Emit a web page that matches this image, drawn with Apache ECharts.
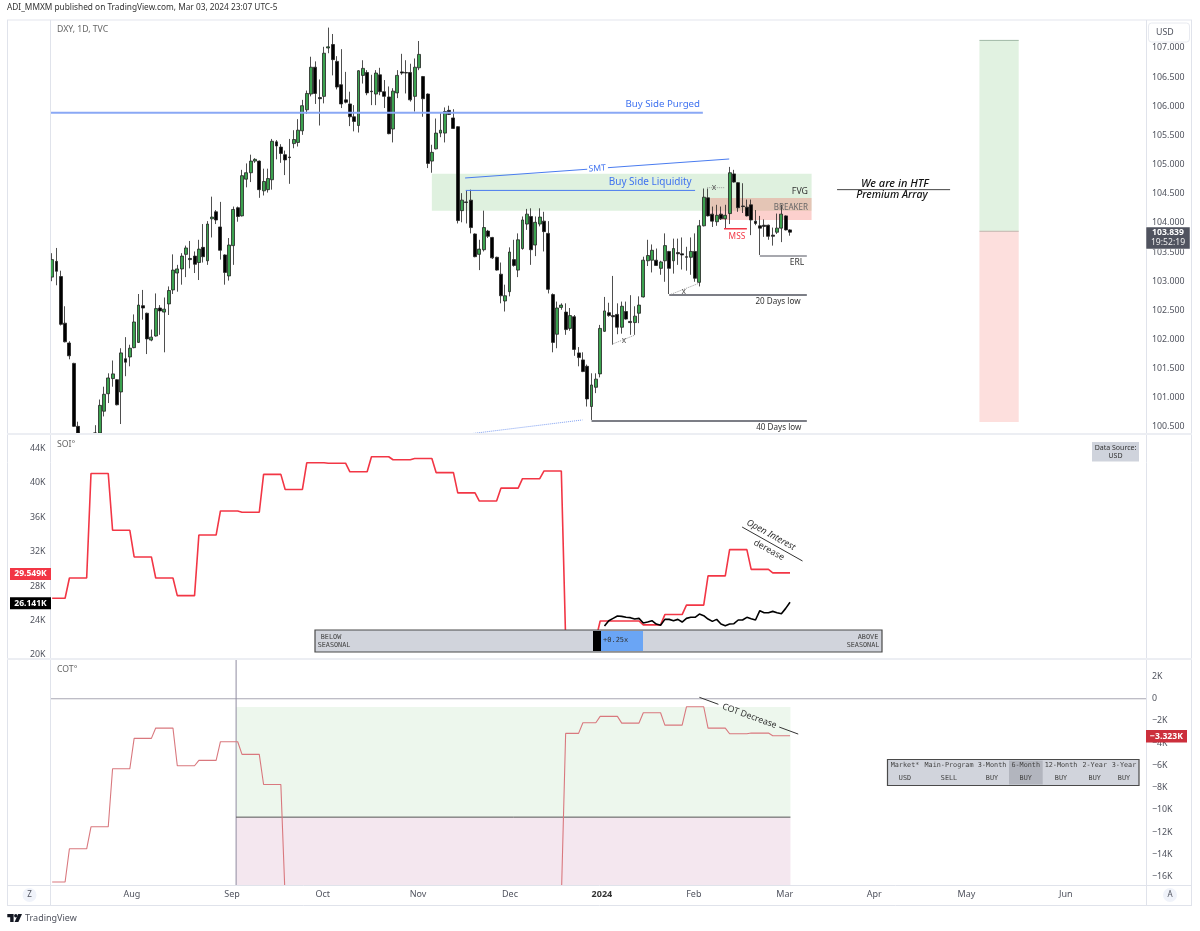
<!DOCTYPE html>
<html>
<head>
<meta charset="utf-8">
<title>DXY 1D</title>
<script src="https://cdn.jsdelivr.net/npm/echarts@6/dist/echarts.min.js"></script>
<style>
html,body{margin:0;padding:0;background:#fff;}
#chart{width:1200px;height:931px;}
</style>
</head>
<body>
<div id="chart"></div>
<script>
// daily candles (a few early bars sit below the pane)
var opens=[103.07,103.34,103.08,102.28,101.94,101.59,100.51,100.05,99.9,100,100,100.31,100.77,101.07,101.33,101.31,101.1,101.67,101.7,101.86,101.95,102.58,102.45,101.99,102.06,102.54,102.47,102.61,102.85,103.14,103.21,103.46,103.39,103.43,103.32,103.58,103.35,104.07,104.19,103.93,103.45,103.09,103.61,104.26,104.12,104.75,104.86,105.06,105.06,104.55,104.57,104.74,105.39,105.3,105.17,105.13,105.36,105.38,105.58,105.94,106.21,106.67,106.15,106.17,107,107.06,106.77,106.37,106.11,106.04,105.82,105.67,106.53,106.58,106.26,106.21,106.54,106.25,106.16,105.61,106.23,106.59,106.58,106.58,106.17,106.66,106.51,106.21,105.06,105.27,105.54,105.54,105.93,105.8,105.65,104.21,104.36,104.39,103.81,103.46,103.54,103.86,103.75,103.41,103.12,102.66,102.82,103.37,103.19,103.56,103.98,104.11,103.62,103.98,104.03,103.82,102.77,102.09,102.55,102.47,102.19,102.39,101.77,101.65,101.54,100.85,101.18,101.41,102.14,102.46,102.41,102.43,102.21,102.48,102.31,102.29,102.45,102.73,103.35,103.36,103.36,103.22,103.35,103.51,103.35,103.49,103.47,103.42,103.41,103.51,102.98,103.95,104.43,104.15,104.02,104.15,104.07,104.16,104.84,104.69,104.29,104.27,104.31,104.03,103.95,103.96,103.96,103.79,103.84,103.91,104.12,103.88];
var closes=[103.37,103.17,102.26,101.96,101.72,100.51,100.1,99.9,100,100.05,100.2,100.87,101.06,101.34,101.41,100.88,101.77,101.61,101.85,102.3,102.59,102.54,102.01,102.04,102.53,102.49,102.52,102.84,103.19,103.21,103.43,103.57,103.37,103.29,103.55,103.42,103.98,104.1,104.05,103.53,103.15,103.62,104.23,104.11,104.81,104.86,105.06,105.09,104.57,104.71,104.76,105.4,105.32,105.19,105.08,105.12,105.43,105.59,106.01,106.22,106.67,106.22,106.13,106.91,107.02,106.8,106.33,106.04,106.07,105.82,105.74,106.61,106.65,106.23,106.25,106.57,106.25,106.17,105.53,106.26,106.53,106.57,106.57,106.11,106.67,106.89,106.13,105.02,105.21,105.54,105.59,105.91,105.86,105.62,104.04,104.39,104.35,103.92,103.42,103.55,103.92,103.77,103.4,103.19,102.75,102.75,103.5,103.27,103.71,104.05,104.15,103.54,104.01,104.1,103.85,102.86,101.95,102.54,102.59,102.17,102.41,101.83,101.69,101.45,100.98,101.22,101.32,102.19,102.49,102.41,102.39,102.21,102.57,102.35,102.29,102.4,102.59,103.36,103.44,103.53,103.27,103.33,103.61,103.22,103.56,103.47,103.45,103.41,103.51,103.05,103.95,104.44,104.12,104.03,104.13,104.07,104.13,104.86,104.7,104.26,104.28,104.12,104.05,103.99,103.91,103.94,103.77,103.77,103.91,104.15,103.88,103.84];
var lows=[103,102.93,102.24,101.95,101.66,100.5,100,99.8,99.75,99.85,99.9,100.25,100.68,100.91,101.19,100.87,100.55,101.37,101.54,101.85,101.94,102.34,101.75,101.97,102.05,102.08,101.78,102.42,102.78,102.82,102.94,103.07,103.22,103.14,103.02,103.32,103.28,103.75,103.98,103.37,102.94,103.01,103.28,104.02,104.11,104.61,104.7,105.03,104.43,104.47,104.52,104.57,105.09,105.03,104.82,104.67,105.28,105.31,105.51,105.87,106.17,106.04,105.67,106.05,106.91,106.53,106.29,105.97,106.05,105.66,105.57,105.55,106.39,106.19,106.02,106.02,106.19,105.97,105.52,105.38,106.14,106.54,106.22,106.08,105.91,106.62,105.82,104.94,104.86,105.26,105.47,105.38,105.85,105.61,103.99,104.01,103.99,103.82,103.41,103.19,103.51,103.74,103.38,103.18,102.62,102.48,102.74,103.25,103.07,103.54,103.88,103.28,103.43,103.94,103.51,102.79,101.78,101.85,102.51,102.08,102.15,101.72,101.54,101.44,100.85,100.62,101.08,101.35,102.13,102.39,101.91,102.09,102.1,102.34,102.08,102.08,102.28,102.72,103.26,103.15,103.26,103.11,102.99,102.78,103.13,103.28,103.2,103.18,103.11,102.99,102.91,103.94,104.11,103.93,103.95,104.05,103.91,103.98,104.69,104.19,104.17,104.11,103.79,103.96,103.45,103.76,103.71,103.61,103.81,103.67,103.87,103.78];
var highs=[103.48,103.57,103.18,102.57,101.97,101.6,100.59,100.2,100.15,100.25,100.53,100.97,101.19,101.42,101.64,101.32,101.85,102.04,101.91,102.43,102.78,102.85,102.46,102.17,102.79,102.59,102.72,102.91,103.46,103.28,103.48,103.61,103.69,103.51,103.71,103.98,104.03,104.45,104.22,104.36,103.46,103.74,104.28,104.28,104.91,105.02,105.17,105.11,105.07,104.93,104.93,105.44,105.42,105.35,105.24,105.44,105.59,105.78,106.11,106.27,106.85,106.77,106.46,107.02,107.35,107.24,106.86,106.98,106.59,106.25,106.02,106.62,106.79,106.62,106.54,106.62,106.66,106.45,106.34,106.31,106.62,106.9,106.79,106.73,106.82,107.12,106.52,106.22,105.34,105.79,105.89,105.98,106.01,105.95,105.66,104.51,104.55,104.57,103.82,103.71,104.21,103.88,103.76,103.42,103.32,102.94,103.58,103.71,103.82,104.11,104.24,104.25,104.11,104.25,104.19,104.03,102.79,102.65,102.62,102.62,102.54,102.42,101.87,101.78,101.57,101.42,101.42,102.25,102.73,102.63,103.09,102.62,102.65,102.65,102.76,102.57,102.74,103.42,103.71,103.63,103.56,103.35,103.82,103.52,103.73,103.73,103.75,103.59,103.75,103.82,104.05,104.59,104.59,104.28,104.31,104.28,104.31,104.96,104.91,104.7,104.68,104.4,104.4,104.22,104.12,104.06,103.97,103.92,104.16,104.31,104.13,103.89];

// SOI weekly steps, one value per bar (K)
var soiValues=[26.6,26.6,26.6,26.6,
28.95,28.95,28.95,28.95,28.95,
41.1,41.1,41.1,41.1,41.1,
34.5,34.5,34.5,34.5,34.5,
31.4,31.4,31.4,31.4,31.4,
28.95,28.95,28.95,28.95,28.95,
26.9,26.9,26.9,26.9,26.9,
33.95,33.95,33.95,33.95,33.95,
36.75,36.75,36.75,36.75,36.75,
36.6,36.6,36.6,36.6,36.6,
41,41,41,41,41,
39.25,39.25,39.25,39.25,39.25,
42.35,42.35,42.35,42.35,42.35,
42.3,42.3,42.3,42.3,42.3,
41.3,41.3,41.3,41.3,41.3,
43.05,43.05,43.05,43.05,43.05,
42.7,42.7,42.7,42.7,42.7,
42.85,42.85,42.85,42.85,42.85,
41.2,41.2,41.2,41.2,41.2,
38.85,38.85,38.85,38.85,38.85,
37.9,37.9,37.9,37.9,37.9,
39.4,39.4,39.4,39.4,39.4,
40.5,40.5,40.5,40.5,40.5,
41.4,41.4,41.4,41.4,41.4,
21.8,21.8,21.8,21.8,21.8,21.8,21.8,21.8,
23.95,23.95,23.95,23.95,23.95,23.95,23.95,23.95,23.95,23.95,
23.5,23.5,23.5,23.5,23.5,
24.7,24.7,24.7,24.7,24.7,
25.8,25.8,25.8,25.8,25.8,
29.2,29.2,29.2,29.2,29.2,
32.25,32.25,32.25,32.25,32.25,
29.95,29.95,29.95,29.95,29.95,
29.55,29.55,29.55,29.55,29.55];

// black line in the SOI pane, starts at bar 128
var oiStart=128;
var oiValues=[23.37,23.99,24.26,24.53,24.49,24.38,24.34,24.18,24.26,23.72,23.83,23.99,23.6,23.45,24.14,24.14,23.99,24.14,23.83,24.26,24.38,24.38,24.76,24.57,24.18,23.91,24.14,23.6,23.41,23.6,23.64,24.07,24.07,24.38,24.22,24.07,25.15,24.92,24.92,25.07,24.92,24.8,25.42,26.14];

// COT weekly steps, one value per bar (K)
var cotValues=[-16.5,-16.5,-16.5,-16.5,
-13.51,-13.51,-13.51,-13.51,-13.51,
-11.53,-11.53,-11.53,-11.53,-11.53,
-6.3,-6.3,-6.3,-6.3,-6.3,
-3.57,-3.57,-3.57,-3.57,-3.57,
-2.64,-2.64,-2.64,-2.64,-2.64,
-6.03,-6.03,-6.03,-6.03,-6.03,
-5.55,-5.55,-5.55,-5.55,-5.55,
-3.87,-3.87,-3.87,-3.87,-3.87,
-5.01,-5.01,-5.01,-5.01,-5.01,
-7.72,-7.72,-7.72,-7.72,-7.72,
-18,-18,-18,-18,-18,-18,-18,-18,-18,-18,-18,-18,-18,
-18,-18,-18,-18,-18,-18,-18,-18,-18,-18,-18,-18,-18,
-18,-18,-18,-18,-18,-18,-18,-18,-18,-18,-18,-18,-18,
-18,-18,-18,-18,-18,-18,-18,-18,-18,-18,-18,-18,-18,
-18,-18,-18,-18,-18,-18,-18,-18,-18,-18,-18,-18,-18,
-3.12,-3.12,-3.12,-3.12,
-2.16,-2.16,-2.16,-2.16,
-1.59,-1.59,-1.59,-1.59,-1.59,
-2.19,-2.19,-2.19,-2.19,-2.19,
-1.26,-1.26,-1.26,-1.26,-1.26,
-2.37,-2.37,-2.37,-2.37,-2.37,
-0.72,-0.72,-0.72,-0.72,-0.72,
-2.64,-2.64,-2.64,-2.64,-2.64,
-3.15,-3.15,-3.15,-3.15,-3.15,
-3.09,-3.09,-3.09,-3.09,-3.09,
-3.33,-3.33,-3.33,-3.33,-3.33];

var priceTicks=[100.5,101,101.5,102,102.5,103,103.5,104,104.5,105,105.5,106,106.5,107];
var soiTicks=[20,24,28,32,36,40,44];
var cotTicks=[2,0,-2,-4,-6,-8,-10,-12,-14,-16];
var monthTicks=[18.5,41.7,62.7,84.8,106.1,127.4,148.7,169.8,190.5,211.9,234.9];
var monthLabels=['Aug','Sep','Oct','Nov','Dec','2024','Feb','Mar','Apr','May','Jun'];

var BAR_SLOTS=254;
var PRICE_MIN=100.396;
var categories=[];
for(var i=0;i<BAR_SLOTS;i++){ categories.push(String(i)); }

// echarts does not cut a candle at the pane edge, so stop them at the axis minimum
var candleData=opens.map(function(o,i){
	if(highs[i]<=PRICE_MIN){ return ['-','-','-','-']; }
	return [Math.max(o,PRICE_MIN),Math.max(closes[i],PRICE_MIN),Math.max(lows[i],PRICE_MIN),highs[i]];
});
var oiData=[];
for(var i=0;i<oiValues.length;i++){ oiData.push([oiStart+i,oiValues[i]]); }

var FONT='"Noto Sans",sans-serif';
var MONO='"DejaVu Sans Mono",monospace';
var axisColor='#e0e3eb';
var labelColor='#50535e';

var series=[];

// grid: 0 price, 1 soi, 2 cot. annotations use the value x axis of the same grid (index+3)
function seg(grid,pts,color,width,dash,z){
	series.push({type:'line',xAxisIndex:grid+3,yAxisIndex:grid,data:pts,symbol:'none',silent:true,animation:false,
		z:z||5,lineStyle:{color:color,width:width,type:dash||'solid'}});
}
function zone(grid,x1,y1,x2,y2,color,z){
	series.push({type:'custom',xAxisIndex:grid+3,yAxisIndex:grid,silent:true,animation:false,z:z||1,clip:true,
		data:[[x1,y1,x2,y2]],
		encode:{x:[0,2],y:[1,3]},
		renderItem:function(params,api){
			var a=api.coord([api.value(0),api.value(1)]);
			var b=api.coord([api.value(2),api.value(3)]);
			return {type:'rect',shape:{x:a[0],y:a[1],width:b[0]-a[0],height:b[1]-a[1]},style:{fill:color}};
		}});
}
function note(grid,x,y,text,color,font,rotate){
	series.push({type:'custom',xAxisIndex:grid+3,yAxisIndex:grid,silent:true,animation:false,z:8,
		data:[[x,y]],
		encode:{x:0,y:1},
		renderItem:function(params,api){
			var a=api.coord([api.value(0),api.value(1)]);
			return {type:'text',x:a[0],y:a[1],rotation:(rotate||0)*Math.PI/180,
				style:{text:text,fill:color,font:font,align:'center',verticalAlign:'middle'}};
		}});
}

// zones under the candles
zone(0,88,104.844,176,104.209,'rgba(76,175,80,0.18)');
zone(0,152.5,104.427,176,104.05,'rgba(244,67,54,0.25)');
zone(0,214.9,107.13,224,103.856,'rgba(76,175,80,0.17)');
zone(0,214.9,103.856,224,100.585,'rgba(244,67,54,0.17)');
zone(2,42.63,-0.75,171.1,-10.66,'rgba(76,175,80,0.10)');
zone(2,42.63,-10.66,171.1,-17,'rgba(156,39,110,0.11)');

series.push({type:'candlestick',name:'DXY',xAxisIndex:0,yAxisIndex:0,data:candleData,barWidth:3.4,z:3,animation:false,silent:true,
	itemStyle:{color:'#3ba24f',color0:'#000',borderColor:'#222',borderColor0:'#222',borderWidth:0.8}});

series.push({type:'line',name:'SOI',xAxisIndex:1,yAxisIndex:1,data:soiValues,symbol:'none',animation:false,silent:true,z:4,
	lineStyle:{color:'#f23645',width:1.6}});
series.push({type:'line',name:'OI',xAxisIndex:4,yAxisIndex:1,data:oiData,symbol:'none',animation:false,silent:true,z:4,
	lineStyle:{color:'#000',width:1.6}});
series.push({type:'line',name:'COT',xAxisIndex:2,yAxisIndex:2,data:cotValues,symbol:'none',animation:false,silent:true,z:4,
	lineStyle:{color:'#d9787e',width:1.1}});

// price pane drawings
seg(0,[[-0.5,105.89],[150.8,105.89]],'#8aa8f5',2);
seg(0,[[95.7,104.77],[124,104.92]],'#4a7cf0',1);
seg(0,[[128.8,104.947],[156.9,105.096]],'#4a7cf0',1);
seg(0,[[95.85,104.557],[149,104.557]],'#4a7cf0',1);
seg(0,[[155.7,103.9],[161,103.9]],'#f23645',1.4);
seg(0,[[164,103.432],[174.9,103.432]],'#50535e',1.2);
seg(0,[[143,102.763],[174.9,102.763]],'#50535e',1.4);
seg(0,[[125,100.602],[174.9,100.602]],'#50535e',1.4);
seg(0,[[129.9,101.923],[135.1,102.077]],'#9a9a9a',1,'dotted');
seg(0,[[143,102.763],[149.9,102.964]],'#9a9a9a',1,'dotted');
seg(0,[[151.8,104.604],[155.9,104.604]],'#9a9a9a',1,'dotted');
seg(0,[[97.5,100.388],[122.9,100.62]],'#7d9ef0',1,'dotted');
seg(0,[[181.9,104.57],[208.1,104.57]],'#444',1);
seg(0,[[214.9,107.13],[224,107.13]],'#9fb8a5',1);
seg(0,[[214.9,103.856],[224,103.856]],'#c4b4ae',1);

note(0,141.5,106.04,'Buy Side Purged','#3f72f0','9.7px '+FONT);
note(0,126.3,104.933,'SMT','#3f72f0','8.6px '+FONT,4);
note(0,138.6,104.707,'Buy Side Liquidity','#3f72f0','10px '+FONT);
note(0,173.3,104.539,'FVG','#333','8.8px '+FONT);
note(0,171.2,104.256,'BREAKER','#666','8px '+FONT);
note(0,158.7,103.758,'MSS','#f23645','8.3px '+FONT);
note(0,172.6,103.312,'ERL','#333','8.5px '+FONT);
note(0,168.2,102.648,'20 Days low','#333','8.1px '+FONT);
note(0,168.4,100.487,'40 Days low','#333','8.1px '+FONT);
note(0,132.5,101.986,'x','#555','8.5px '+FONT);
note(0,146.4,102.82,'x','#555','8.5px '+FONT);
note(0,153.4,104.607,'x','#555','8.5px '+FONT);
note(0,195.3,104.667,'We are in HTF','#111','italic 500 11px '+FONT);
note(0,194.6,104.479,'Premium Array','#111','italic 500 10.5px '+FONT);

// soi pane drawings
seg(1,[[159.9,34.88],[173.9,30.93]],'#333',1);
note(1,166.6,33.95,'Open Interest','#333','italic 9px '+FONT,-29);
note(1,166.1,32.2,'derease','#333','9px '+FONT,-29);

// cot pane drawings
seg(2,[[-0.5,0],[253.5,0]],'#a9a7b3',1.2,'solid',2);
seg(2,[[42.63,3.49],[42.63,-16.77]],'#8f8ca0',1,'solid',2);
seg(2,[[42.63,-10.66],[171.1,-10.66]],'#555',1,'solid',2);
seg(2,[[150,0.13],[154.4,-0.5]],'#333',1);
seg(2,[[168.5,-2.55],[172.9,-3.18]],'#333',1);
note(2,161.6,-1.56,'COT Decrease','#333','8.8px '+FONT,-20);

function txt(x,y,s,font,fill,align,z){
	return {type:'text',x:x,y:y,z:z||60,silent:true,style:{text:s,font:font,fill:fill,textAlign:align||'left',textVerticalAlign:'middle'}};
}
function box(x,y,w,h,fill,stroke,lw,r,z){
	return {type:'rect',z:z||55,silent:true,shape:{x:x,y:y,width:w,height:h,r:r||0},style:{fill:fill||'none',stroke:stroke||'none',lineWidth:lw||0}};
}
function rule(x1,y1,x2,y2,w,c){
	return {type:'line',z:40,silent:true,shape:{x1:x1,y1:y1,x2:x2,y2:y2},style:{stroke:c||axisColor,lineWidth:w||1}};
}

var graphics=[
	// frame
	rule(7,20,1192,20,1.5,'#eceef3'),rule(7.5,20,7.5,905),rule(1191.5,20,1191.5,905),rule(7,905.5,1192,905.5),
	rule(50.5,20,50.5,905),rule(1146.5,20,1146.5,905),
	rule(7,434,1192,434,2,'#eceef3'),rule(7,659,1192,659,2,'#eceef3'),rule(7,885.5,1192,885.5),
	// header and footer
	txt(7,8,'ADI_MMXM published on TradingView.com, Mar 03, 2024 23:07 UTC-5','8.3px '+FONT,'#333'),
	{type:'polygon',z:60,silent:true,shape:{points:[[7.3,914],[13.6,914],[13.6,922],[10.2,922],[10.2,917.2],[7.3,917.2]]},style:{fill:'#131722'}},
	{type:'circle',z:60,silent:true,shape:{cx:15.8,cy:915.8,r:1.7},style:{fill:'#131722'}},
	{type:'polygon',z:60,silent:true,shape:{points:[[18.2,914],[22,914],[18.4,922],[14.6,922]]},style:{fill:'#131722'}},
	txt(25,918,'TradingView','9px '+FONT,'#50535e'),
	// pane titles
	txt(57,30,'DXY, 1D, TVC','8.7px '+FONT,'#666'),
	txt(57,445,'SOI°','8.7px '+FONT,'#666'),
	txt(57,670,'COT°','8.7px '+FONT,'#666'),
	// scale buttons and tags
	box(1148.5,23,41,19,'#fff','#e8eaf0',1,3),
	txt(1156,32.5,'USD','8.8px '+FONT,'#50535e'),
	box(1146,227,44,22,'#50535f','#fff',0.5),
	txt(1168,233,'103.839','bold 8.6px '+FONT,'#fff','center'),
	txt(1168,243,'19:52:19','8.6px '+FONT,'#eee','center'),
	box(10,568,41,12,'#f23645'),
	txt(30.5,574,'29.549K','bold 8.5px '+FONT,'#fff','center'),
	box(10,597.3,41,12,'#000'),
	txt(30.5,603.5,'26.141K','bold 8.5px '+FONT,'#fff','center'),
	box(1146,730,41,12.5,'#cc2f3c'),
	txt(1166.5,736.5,'−3.323K','bold 8.6px '+FONT,'#fff','center'),
	{type:'circle',z:60,silent:true,shape:{cx:29.5,cy:895,r:7},style:{fill:'#f0f3fa'}},
	txt(29.5,895,'Z','8px '+FONT,'#50535e','center',61),
	{type:'circle',z:60,silent:true,shape:{cx:1170,cy:895,r:7},style:{fill:'#f0f3fa'}},
	txt(1170,895,'A','8px '+FONT,'#50535e','center',61),
	// data source box
	box(1092,442,47,19.5,'#cfd3dc'),
	txt(1115.5,448,'Data Source:','7px '+FONT,'#333','center'),
	txt(1115.5,455.5,'USD','7px '+FONT,'#333','center'),
	// seasonal table
	box(315,630,567,22,'#d1d4dc','#4a4a4a',1.2),
	box(593,631,8,20,'#000',null,0,0,56),
	box(601,631,42,20,'#6aa5f5',null,0,0,56),
	txt(331,637,'BELOW','6.8px '+MONO,'#444','center'),
	txt(334,645,'SEASONAL','6.8px '+MONO,'#444','center'),
	txt(603,640.5,'+0.25x','7px '+MONO,'#333'),
	txt(868,637,'ABOVE','6.8px '+MONO,'#444','center'),
	txt(863,645,'SEASONAL','6.8px '+MONO,'#444','center'),
	// cot table
	box(887.5,759.5,251.5,26,'#d1d4dc','#4a4a4a',1.2),
	box(1009,760.5,33.7,24,'#b2b5be',null,0,0,56)
];
var tableHeads=['Market*','Main-Program','3-Month','6-Month','12-Month','2-Year','3-Year'];
var tableVals=['USD','SELL','BUY','BUY','BUY','BUY','BUY'];
var tableCols=[905,949,992,1025.7,1061,1094.7,1124];
tableHeads.forEach(function(h,i){
	graphics.push(txt(tableCols[i],765.5,h,'6.8px '+MONO,'#444','center'));
	graphics.push(txt(tableCols[i],778,tableVals[i],'6.8px '+MONO,'#444','center'));
});

function catAxis(grid){
	return {type:'category',gridIndex:grid,position:'bottom',data:categories,boundaryGap:true,show:false};
}
function valAxis(grid,labels){
	var ax={type:'value',gridIndex:grid,position:'bottom',min:-0.5,max:BAR_SLOTS-0.5,axisLine:{show:false,onZero:false},axisTick:{show:false},splitLine:{show:false},axisLabel:{show:false}};
	if(labels){
		ax.axisLabel={show:true,customValues:monthTicks,margin:5,color:labelColor,fontFamily:FONT,fontSize:9,
			formatter:function(v){
				var s=monthLabels[monthTicks.indexOf(v)];
				return s==='2024'?'{b|2024}':s;
			},
			rich:{b:{fontWeight:'bold',fontSize:9,fontFamily:FONT,color:'#333'}}};
	}
	return ax;
}
function yAxis(grid,pos,min,max,ticks,fmt){
	return {type:'value',gridIndex:grid,position:pos,min:min,max:max,scale:true,
		axisLine:{show:false},axisTick:{show:false},splitLine:{show:false},
		axisLabel:{customValues:ticks,formatter:fmt,color:labelColor,fontFamily:FONT,fontSize:8.8,margin:pos==='left'?4.5:6}};
}

var option={
	animation:false,
	backgroundColor:'#fff',
	tooltip:{show:false},
	grid:[
		{left:50,width:1096,top:20,height:413},
		{left:50,width:1096,top:435,height:223},
		{left:50,width:1096,top:660,height:225}
	],
	xAxis:[catAxis(0),catAxis(1),catAxis(2),valAxis(0),valAxis(1),valAxis(2,true)],
	yAxis:[
		yAxis(0,'right',PRICE_MIN,107.48,priceTicks,function(v){ return v.toFixed(3); }),
		yAxis(1,'left',19.65,45.58,soiTicks,function(v){ return v+'K'; }),
		yAxis(2,'right',-16.77,3.49,cotTicks,function(v){ return v===0?'0':(v<0?'−'+(-v)+'K':v+'K'); })
	],
	series:series,
	graphic:{elements:graphics}
};

var myChart=echarts.init(document.getElementById('chart'),null,{renderer:'canvas'});
myChart.setOption(option);
</script>
</body>
</html>
